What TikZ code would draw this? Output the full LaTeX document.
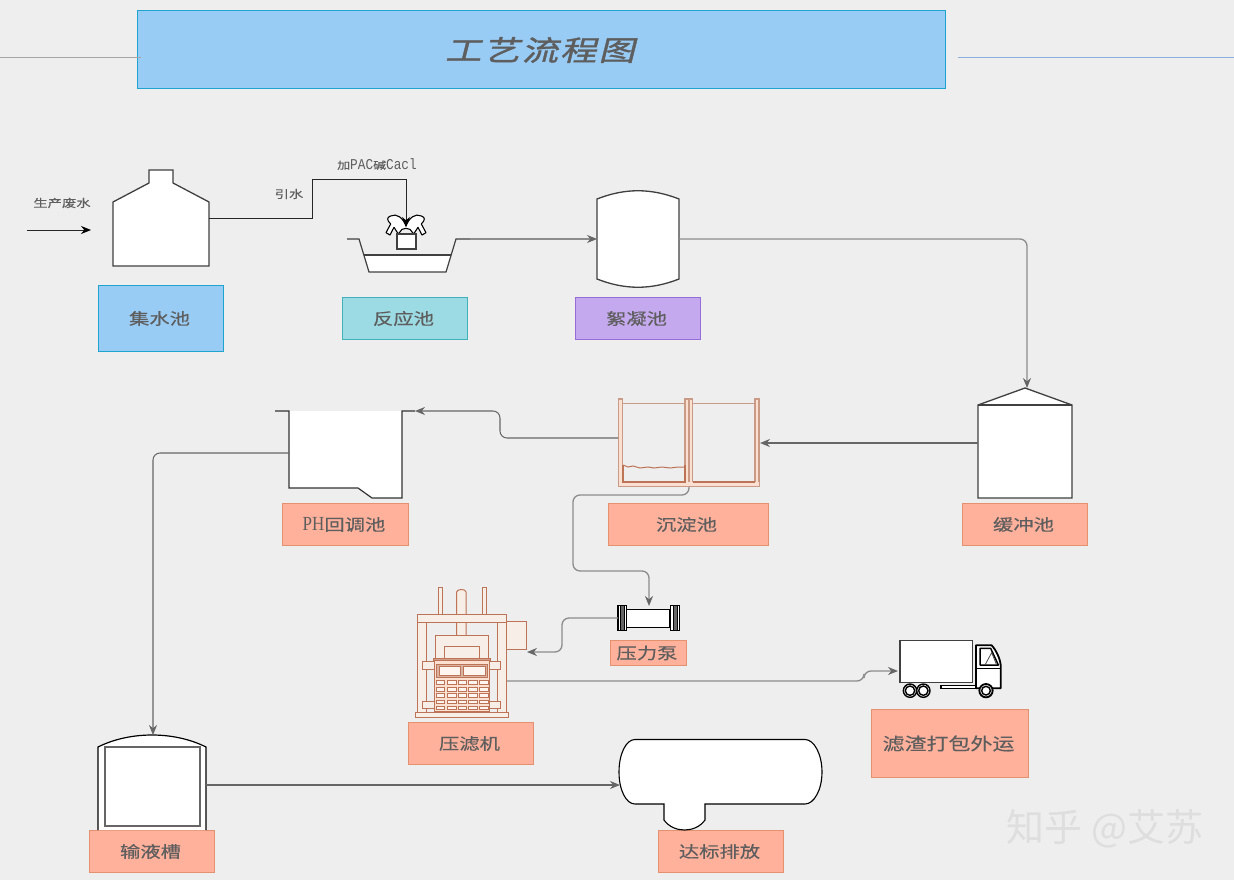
\documentclass[tikz,border=0pt]{standalone}
\usepackage{fontspec}
\usetikzlibrary{arrows.meta}
\setmainfont{Noto Sans CJK SC}
\newfontfamily\labfont[FakeStretch=1.27,FakeBold=0.4]{Noto Sans CJK SC}
\newfontfamily\smallfont[FakeStretch=1.3,FakeBold=0.3]{Noto Sans CJK SC}
\newfontfamily\titlefont[FakeStretch=1.3,FakeSlant=0.25,LetterSpace=7,FakeBold=1.4]{Noto Sans CJK SC}
\newfontfamily\monofont[FakeStretch=0.85]{Liberation Mono}
\newfontfamily\serifnarrow[FakeStretch=0.85]{Liberation Serif}
\newcommand{\lab}[1]{\mbox{\raisebox{-1pt}{#1}\kern3pt}}
\definecolor{bgc}{HTML}{EEEEEE}
\definecolor{txtc}{HTML}{5E5E5E}
\definecolor{connc}{HTML}{8C8C8C}
\definecolor{tipc}{HTML}{666666}
\definecolor{sal}{HTML}{FFB19C}
\definecolor{salb}{HTML}{E3916F}
\definecolor{wallf}{HTML}{FBDFD0}
\definecolor{pressf}{HTML}{F8EEE8}
\definecolor{walld}{HTML}{BD7355}
\definecolor{wallo}{HTML}{C99A85}
\definecolor{sky}{HTML}{99CCF5}
\definecolor{skyb}{HTML}{1FA3CF}
\definecolor{linehr}{HTML}{8AB0E0}
\definecolor{cyanf}{HTML}{9CDAE4}
\definecolor{cyanb}{HTML}{42B0BB}
\definecolor{purf}{HTML}{C5A9EE}
\definecolor{purb}{HTML}{966CD7}
\tikzset{
  labelbox/.style={draw,rectangle,inner sep=0pt,line width=1pt,text=txtc,font=\labfont\fontsize{16}{18}\selectfont,align=center},
  salbox/.style={labelbox,fill=sal,draw=salb},
  bluebox/.style={labelbox,fill=sky,draw=skyb},
  smalltext/.style={text=txtc,inner sep=0pt,font=\smallfont\fontsize{11}{13}\selectfont},
  tank/.style={fill=white,draw=black!75,line width=1.3pt,line join=miter},
  wall/.style={fill=wallf,draw=wallo,line width=1.1pt},
  wallthin/.style={fill=pressf,draw=walld,line width=1pt},
  conn/.style={draw=connc,line width=1.3pt,rounded corners=7pt,-{Stealth[length=10pt,width=8pt,color=tipc]}},
  darkconn/.style={draw=tipc,line width=1.05pt,rounded corners=7pt,-{Stealth[length=10pt,width=8pt,color=tipc]}},
  blackconn/.style={draw=black!85,line width=1pt,-{Stealth[length=10pt,width=8pt,color=black]}}
}
\begin{document}
\begin{tikzpicture}[x=1pt,y=-1pt]
\useasboundingbox (0,0) rectangle (1234,880);
\fill[bgc] (0,0) rectangle (1234,880);
% header
\coordinate (hl0) at (0,57.5); \coordinate (hl1) at (141,57.5);
\coordinate (hr0) at (958,57.5); \coordinate (hr1) at (1234,57.5);
\node[bluebox,minimum width=808,minimum height=78,font=\titlefont\fontsize{28}{30}\selectfont] (title) at (541.5,50) {\raisebox{-3pt}{工艺流程图}\kern3pt};
\draw[draw=black!35,line width=1.3pt] (hl0) -- (hl1);
\draw[draw=linehr,line width=1.3pt] (hr0) -- (hr1);
% label boxes
\node[bluebox,minimum width=125,minimum height=66] (b1) at (161,318.5) {\lab{集水池}};
\node[labelbox,fill=cyanf,draw=cyanb,minimum width=125,minimum height=41.5] (b2) at (405,318.5) {\lab{反应池}};
\node[labelbox,fill=purf,draw=purb,minimum width=125,minimum height=41.5] (b3) at (638,318.5) {\lab{絮凝池}};
\node[salbox,minimum width=126,minimum height=41.5] (b4) at (345.5,524.5) {\lab{{\serifnarrow\fontsize{20}{20}\selectfont PH}回调池}};
\node[salbox,minimum width=160,minimum height=41.5] (b5) at (688,524.5) {\lab{沉淀池}};
\node[salbox,minimum width=125,minimum height=41.5] (b6) at (1025,524.5) {\lab{缓冲池}};
\node[salbox,minimum width=76,minimum height=25] (b7) at (648.5,653) {\lab{压力泵}};
\node[salbox,minimum width=125,minimum height=41.5] (b8) at (471,743.5) {\lab{压滤机}};
\node[salbox,minimum width=157,minimum height=67.5,font=\labfont\fontsize{17.3}{19}\selectfont] (b9) at (950,743.5) {\lab{滤渣打包外运}};
\node[salbox,minimum width=125,minimum height=41.5] (b10) at (152,851.5) {\lab{输液槽}};
\node[salbox,minimum width=125,minimum height=41.5] (b11) at (721,851.5) {\lab{达标排放}};
% text labels
\node[smalltext] (t1) at (62,203) {生产废水};
\node[smalltext] (t2) at (289,194) {引水};
\node[text=txtc,inner sep=0pt,font=\monofont\fontsize{15}{15}\selectfont] (t3) at (377,164) {{\smallfont\fontsize{10}{12}\selectfont 加}PAC{\smallfont\fontsize{10}{12}\selectfont 碱}Cacl};
\node[text=black!13,inner sep=0pt,font=\fontsize{38}{40}\selectfont] (wm) at (1105,829) {知乎 @艾苏};
% collection tank
\draw[tank] (113,266) -- (113,202) -- (149,183) -- (149,170) -- (173,170) -- (173,183) -- (209,202) -- (209,266) -- cycle;
% reaction pool
\fill[white] (364,255) -- (451,255) -- (446,272) -- (369,272) -- cycle;
\draw[draw=black!75,line width=1.2pt,line join=miter] (347,239) -- (359,239) -- (369,272) -- (446,272) -- (456,239) -- (470,239);
\draw[draw=black!75,line width=1.2pt] (364,255) -- (451,255);
\begin{scope}[shift={(0,140)},scale=1/3]
\draw[fill=white,draw=black,line width=1.1pt,line join=round]
  (1218,258) .. controls (1210,235) and (1190,218) .. (1172,228) .. controls (1160,232) and (1160,240) .. (1172,252)
  -- (1158,278) -- (1170,285) -- (1182,262) -- (1195,282) -- (1206,268) -- (1218,265) -- (1230,268) -- (1241,282) -- (1254,262) -- (1266,285) -- (1278,278) -- (1264,252)
  .. controls (1276,240) and (1276,232) .. (1264,228) .. controls (1246,218) and (1226,235) .. (1218,258) -- cycle;
\end{scope}
\draw[tank] (397,234) rectangle (416,249);
% flocculation tank
\draw[tank] (597,199) .. controls (625,188) and (651,188) .. (679,199) -- (679,279) .. controls (651,290) and (625,290) .. (597,279) -- cycle;
% buffer tank
\draw[tank] (978,405) -- (1025,388) -- (1072,405) -- (1072,498) -- (978,498) -- cycle;
\draw[draw=black!75,line width=1.3pt] (978,405) -- (1072,405);
% sedimentation tank
\draw[wall] (622.5,403.5) -- (685,403.5);
\draw[wall] (692.5,403.5) -- (755,403.5);
\draw[wall] (618.5,399) rectangle (622.5,486.5);
\draw[wall] (755,399) rectangle (759,486.5);
\draw[wall] (685,399) rectangle (689,486.5);
\draw[wall] (689,399) rectangle (692.5,486.5);
\fill[wallf] (619,482) rectangle (758.5,486);
\draw[draw=wallo,line width=1.1pt] (618.5,486.5) -- (759,486.5);
\draw[draw=walld,line width=1.1pt] (623,465) -- (623,482) -- (685,482) -- (685,465);
\draw[draw=walld,line width=1pt] (623,465) -- (628,467) -- (633,466) -- (640,468) -- (648,467) -- (654,468) -- (662,467) -- (670,468) -- (678,467) -- (685,467);
\draw[draw=walld,line width=1.1pt] (692.5,482) -- (755,482);
% PH pool
\fill[white] (289,411) -- (402,411) -- (402,498) -- (372,498) -- (358,488) -- (289,488) -- cycle;
\draw[draw=black!80,line width=1.2pt,line join=miter] (275,411) -- (289,411) -- (289,488) -- (358,488) -- (372,498) -- (402,498) -- (402,411) -- (415,411);
% pump
\begin{scope}[shift={(400,570)},scale=1/3]
\draw[fill=white,draw=black,line width=1.2pt] (680,118) -- (810,118) -- (810,172) -- (680,172) -- cycle;
\draw[fill=white,draw=black,line width=1.2pt] (654,106) rectangle (680,182);
\draw[fill=white,draw=black,line width=1.2pt] (812,106) rectangle (838,182);
\draw[fill=black!60,draw=black,line width=.5pt] (660,106) rectangle (672,182);
\draw[fill=black!60,draw=black,line width=.5pt] (820,106) rectangle (832,182);
\end{scope}
% press
\begin{scope}[shift={(400,570)},scale=1/3]
\draw[wallthin] (114,52) rectangle (126,132);
\draw[wallthin] (246,52) rectangle (258,132);
\draw[wallthin] (170,195) -- (170,66) .. controls (170,56) and (198,56) .. (198,66) -- (198,195);
\draw[wallthin] (320,155) rectangle (380,238);
\draw[wallthin] (52,158) rectangle (80,430);
\draw[wallthin] (292,158) rectangle (320,430);
\draw[wallthin] (52,132) rectangle (320,158);
\draw[wallthin] (107,195) rectangle (265,268);
\draw[wallthin] (133,228) rectangle (238,268);
\draw[wallthin,fill=walld!70] (100,266) rectangle (272,272);
\draw[wallthin,fill=wallf] (104,272) rectangle (268,425);
\draw[wallthin,fill=walld!55] (110,282) rectangle (262,322);
\draw[wallthin,fill=white!70!wallf] (118,288) rectangle (182,316);
\draw[wallthin,fill=white!70!wallf] (190,288) rectangle (255,316);
\foreach \yy in {332,352,370,390,408}{
  \foreach \xx in {108,142,174,206,238}{
    \draw[wallthin,fill=white!70!wallf] (\xx,\yy) rectangle ++(26,11);
  }
}
\draw[wallthin] (68,275) rectangle (104,297);
\draw[wallthin] (268,275) rectangle (302,297);
\draw[wallthin] (68,393) rectangle (104,415);
\draw[wallthin] (268,393) rectangle (302,415);
\draw[wallthin] (46,428) rectangle (326,443);
\end{scope}
% truck
\begin{scope}[shift={(870,620)},scale=1/3]
\draw[fill=white,draw=black,line width=1.4pt] (213,196) rectangle (320,206);
\draw[fill=white,draw=black,line width=1.8pt,line join=round] (318,76) -- (365,76) .. controls (378,90) and (390,115) .. (392,135) -- (392,205) -- (318,205) -- cycle;
\draw[draw=black,line width=1.4pt] (318,145) -- (392,145);
\draw[fill=white,draw=black,line width=1.5pt,line join=round] (330,85) -- (362,85) -- (385,135) -- (330,135) -- cycle;
\draw[draw=black!70,line width=.8pt] (345,135) -- (365,98) -- (380,135);
\draw[fill=bgc,draw=black,line width=1.4pt] (120,212) circle[radius=20];
\draw[fill=white,draw=black,line width=1.4pt] (120,212) circle[radius=14];
\draw[fill=bgc,draw=black,line width=1.4pt] (160,212) circle[radius=20];
\draw[fill=white,draw=black,line width=1.4pt] (160,212) circle[radius=14];
\draw[fill=bgc,draw=black,line width=1.8pt] (348,212) circle[radius=20];
\draw[fill=white,draw=black,line width=1.4pt] (348,212) circle[radius=13];
\draw[fill=white,draw=black!75,line width=1.4pt] (88,62) rectangle (308,188);
\draw[draw=black!75,line width=2pt] (90,62) -- (90,188);
\end{scope}
% holding tank
\draw[fill=white,draw=black,line width=1.2pt] (98,830) -- (98,747) .. controls (130,731) and (174,731) .. (206,747) -- (206,830);
\draw[fill=white,draw=black!60,line width=1.3pt] (105,747) rectangle (200,826);
% discharge tank
\draw[fill=white,draw=black,line width=1.1pt] (635,739.5) -- (805,739.5) .. controls (814,739.5) and (822,754) .. (822,772) .. controls (822,790) and (814,804) .. (805,804) -- (705,804) -- (705,820) .. controls (700,827) and (692,830) .. (684.5,830) .. controls (677,830) and (669,827) .. (664,820) -- (664,804) -- (635,804) .. controls (626,804) and (619,790) .. (619,772) .. controls (619,754) and (626,739.5) .. (635,739.5) -- cycle;
% connector points
\coordinate (in0) at (27,230); \coordinate (in1) at (91,230);
\coordinate (c1a) at (209,218); \coordinate (c1b) at (406,227);
\coordinate (c2a) at (470,239); \coordinate (c2b) at (597,239);
\coordinate (c3a) at (679,239); \coordinate (c3b) at (1027,388);
\coordinate (c4a) at (978,443); \coordinate (c4b) at (760,443);
\coordinate (c5a) at (618,438); \coordinate (c5b) at (415,411);
\coordinate (c6a) at (289,453); \coordinate (c6b) at (153,735);
\coordinate (c7a) at (689,487); \coordinate (c7b) at (649,606);
\coordinate (c8a) at (618,618); \coordinate (c8b) at (527,652);
\coordinate (c9a) at (507,681); \coordinate (c9b) at (898,671);
\coordinate (c10a) at (206,785); \coordinate (c10b) at (620,785);
% connectors
\draw[blackconn] (in0) -- (in1);
\draw[blackconn,line join=miter] (c1a) -- (312,218) -- (312,179) -- (406,179) -- (c1b);
\draw[conn] (c2a) -- (c2b);
\draw[conn] (c3a) -- (1027,239) -- (c3b);
\draw[darkconn] (c4a) -- (c4b);
\draw[darkconn] (c5a) -- (500,438) -- (500,411) -- (c5b);
\draw[darkconn] (c6a) -- (153,453) -- (c6b);
\draw[conn] (c7a) -- (689,495) -- (573,495) -- (573,571) -- (649,571) -- (c7b);
\draw[conn] (c8a) -- (562,618) -- (562,652) -- (c8b);
\draw[conn] (c9a) -- (864,681) -- (864,671) -- (c9b);
\draw[darkconn] (c10a) -- (c10b);
\end{tikzpicture}
\end{document}
